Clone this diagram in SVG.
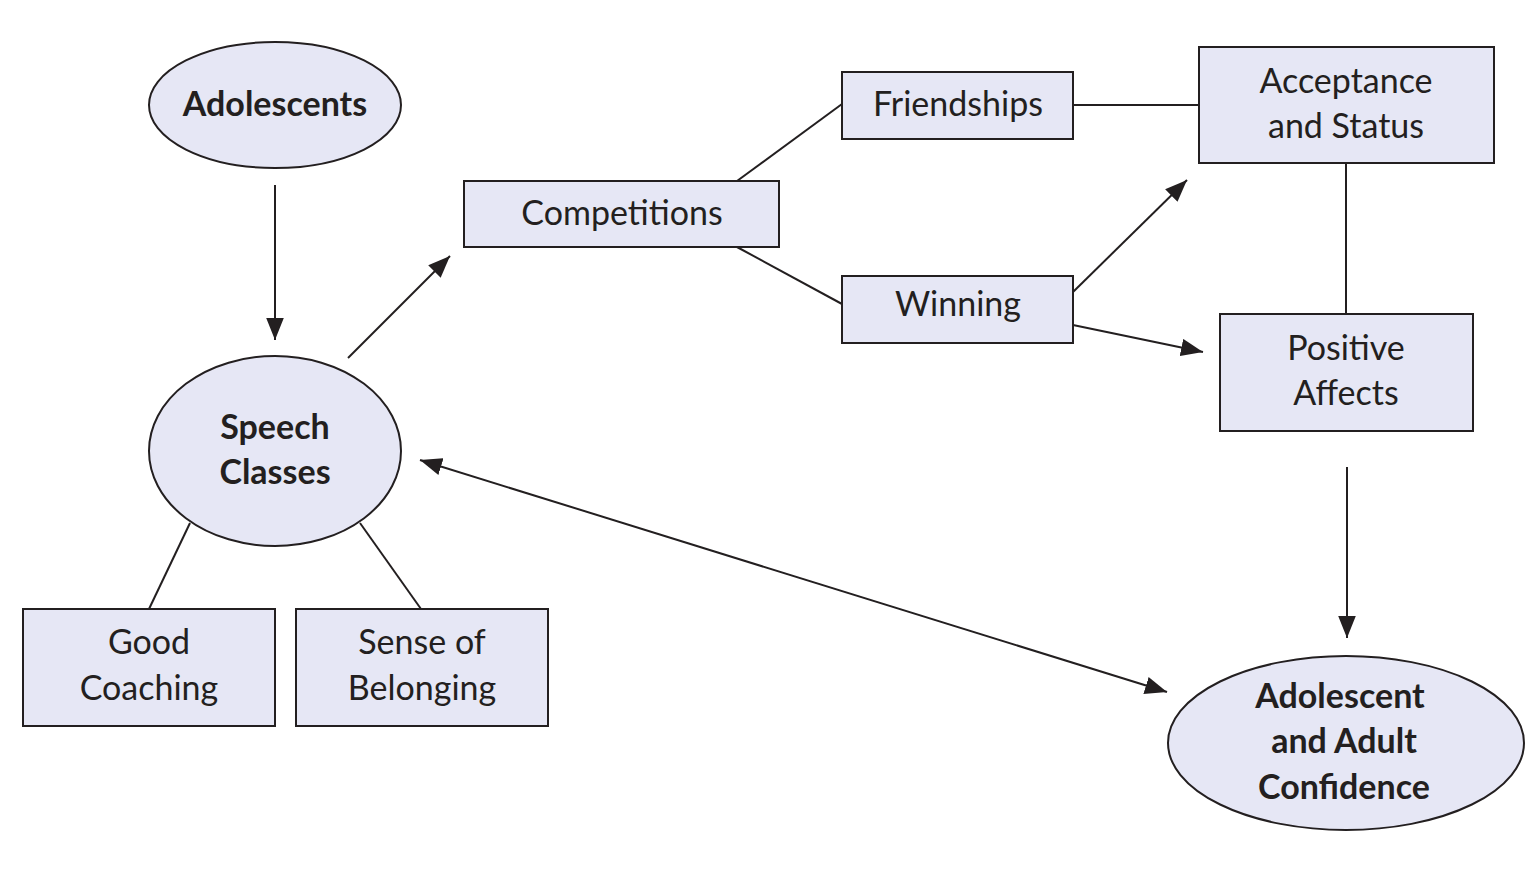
<svg xmlns="http://www.w3.org/2000/svg" width="1535" height="882" viewBox="0 0 1535 882">
<style>
.n{fill:#e6e7f5;stroke:#231f20;stroke-width:2}
.t{font-family:Lato,"Noto Sans",sans-serif;font-size:34px;fill:#231f20;text-anchor:middle}
.b{font-weight:bold}
.c line{stroke:#231f20;stroke-width:2}
</style>
<defs>
<marker id="a" viewBox="0 0 10 10" refX="9" refY="5" markerWidth="10" markerHeight="10" markerUnits="userSpaceOnUse" orient="auto-start-reverse">
<path d="M0,0L10,5L0,10z" fill="#231f20"/>
</marker>
<marker id="A" viewBox="0 0 20 16" refX="20" refY="8" markerWidth="22" markerHeight="18" markerUnits="userSpaceOnUse" orient="auto-start-reverse">
<path d="M0,0L20,8L0,16z" fill="#231f20"/>
</marker>
</defs>
<rect width="1535" height="882" fill="#fff"/>
<g class="c">
<line x1="275" y1="185" x2="275" y2="340" marker-end="url(#A)"/>
<line x1="348" y1="358" x2="450" y2="256" marker-end="url(#A)"/>
<line x1="737" y1="181" x2="842" y2="104"/>
<line x1="737" y1="247" x2="842" y2="304"/>
<line x1="1073" y1="105" x2="1199" y2="105"/>
<line x1="1346" y1="163" x2="1346" y2="314"/>
<line x1="1073" y1="292" x2="1187" y2="180" marker-end="url(#A)"/>
<line x1="1073" y1="325" x2="1203" y2="352" marker-end="url(#A)"/>
<line x1="1347" y1="467" x2="1347" y2="638" marker-end="url(#A)"/>
<line x1="420" y1="460" x2="1167" y2="692" marker-start="url(#A)" marker-end="url(#A)"/>
<line x1="190" y1="523" x2="149" y2="609"/>
<line x1="360" y1="523" x2="421" y2="609"/>
</g>
<g id="adolescents"><ellipse class="n" cx="275" cy="105" rx="126" ry="63"/><text class="t b" x="275" y="116">Adolescents</text></g>
<g id="speech"><ellipse class="n" cx="275" cy="451" rx="126" ry="95"/><text class="t b" x="275" y="439">Speech</text><text class="t b" x="275" y="484">Classes</text></g>
<g id="coaching"><rect class="n" x="23" y="609" width="252" height="117"/><text class="t" x="149" y="654">Good</text><text class="t" x="149" y="700">Coaching</text></g>
<g id="belonging"><rect class="n" x="296" y="609" width="252" height="117"/><text class="t" x="422" y="654">Sense of</text><text class="t" x="422" y="700">Belonging</text></g>
<g id="competitions"><rect class="n" x="464" y="181" width="315" height="66"/><text class="t" x="622" y="225">Competitions</text></g>
<g id="friendships"><rect class="n" x="842" y="72" width="231" height="67"/><text class="t" x="958" y="116">Friendships</text></g>
<g id="winning"><rect class="n" x="842" y="276" width="231" height="67"/><text class="t" x="958" y="316">Winning</text></g>
<g id="acceptance"><rect class="n" x="1199" y="47" width="295" height="116"/><text class="t" x="1346" y="93">Acceptance</text><text class="t" x="1346" y="138">and Status</text></g>
<g id="positive"><rect class="n" x="1220" y="314" width="253" height="117"/><text class="t" x="1346" y="360">Positive</text><text class="t" x="1346" y="405">Affects</text></g>
<g id="confidence"><ellipse class="n" cx="1346" cy="743" rx="178" ry="87"/><text class="t b" x="1340" y="708">Adolescent</text><text class="t b" x="1344" y="753">and Adult</text><text class="t b" x="1344" y="799">Confidence</text></g>
</svg>
